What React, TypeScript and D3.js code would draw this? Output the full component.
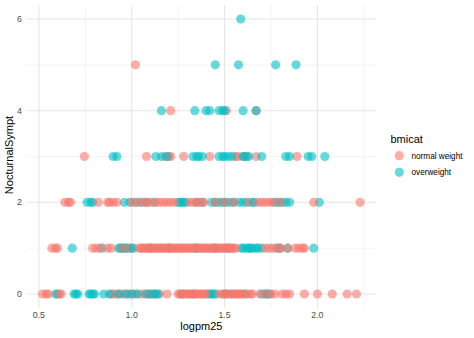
import React from "react";
import * as d3 from "d3";

const W = 474;
const H = 338;

const categories = ["normal weight", "overweight"];
const colors = ["#F8766D", "#00BFC4"];
const xTicks = [0.5, 1.0, 1.5, 2.0];
const xMinor = [0.75, 1.25, 1.75, 2.25];
const yTicks = [0, 2, 4, 6];
const yMinor = [1, 3, 5];

// logpm25 values per NocturnalSympt level, normal weight
const normal0 = [0.52, 0.54, 0.55, 0.61, 0.62, 0.89, 0.9, 0.92, 0.94, 0.96, 0.98, 1.0, 1.02, 1.05, 1.07, 1.09, 1.1, 1.12, 1.15, 1.19, 1.25, 1.26, 1.27, 1.28, 1.29, 1.3, 1.31, 1.32, 1.33, 1.34, 1.35, 1.36, 1.37, 1.38, 1.39, 1.4, 1.47, 1.49, 1.5, 1.51, 1.52, 1.53, 1.55, 1.56, 1.57, 1.58, 1.59, 1.6, 1.62, 1.64, 1.65, 1.69, 1.72, 1.75, 1.77, 1.81, 1.83, 1.85, 1.93, 2.0, 2.08, 2.16, 2.21];
const normal1 = [0.57, 0.59, 0.6, 0.79, 0.81, 0.83, 0.87, 0.89, 0.95, 0.99, 1.04, 1.05, 1.06, 1.07, 1.08, 1.09, 1.1, 1.11, 1.12, 1.13, 1.14, 1.15, 1.16, 1.17, 1.18, 1.19, 1.2, 1.21, 1.22, 1.23, 1.24, 1.25, 1.26, 1.27, 1.28, 1.29, 1.3, 1.31, 1.32, 1.33, 1.35, 1.36, 1.37, 1.38, 1.39, 1.4, 1.41, 1.42, 1.43, 1.44, 1.45, 1.46, 1.47, 1.48, 1.49, 1.5, 1.51, 1.52, 1.53, 1.54, 1.55, 1.56, 1.72, 1.74, 1.76, 1.79, 1.8, 1.84, 1.88, 1.9, 1.92, 1.93];
const normal2 = [0.64, 0.66, 0.67, 0.82, 0.87, 0.88, 0.9, 0.92, 1.0, 1.03, 1.06, 1.08, 1.1, 1.13, 1.15, 1.17, 1.19, 1.21, 1.23, 1.31, 1.33, 1.35, 1.37, 1.39, 1.45, 1.5, 1.55, 1.63, 1.68, 1.7, 1.72, 1.74, 1.76, 1.8, 1.98, 2.23];
const normal3 = [0.745, 1.08, 1.18, 1.2, 1.21, 1.28, 1.42, 1.56, 1.57, 1.6, 1.62, 1.67, 1.89];
const normal4 = [1.21, 1.51, 1.67];
const normal5 = [1.02];
const normal6: number[] = [];

// overweight
const over0 = [0.59, 0.6, 0.69, 0.7, 0.71, 0.77, 0.78, 0.79, 0.8, 0.85, 0.88, 0.93, 0.97, 1.0, 1.03, 1.08, 1.1, 1.12, 1.13, 1.14, 1.27, 1.33, 1.41, 1.42, 1.43, 1.44, 1.45, 1.5, 1.54, 1.61, 1.7, 1.72, 1.73, 1.74];
const over1 = [0.68, 0.84, 0.93, 0.94, 0.95, 0.96, 0.97, 0.98, 1.0, 1.01, 1.1, 1.2, 1.34, 1.35, 1.45, 1.52, 1.59, 1.6, 1.62, 1.63, 1.64, 1.65, 1.67, 1.68, 1.7, 1.78, 1.8, 1.84, 1.98];
const over2 = [0.76, 0.78, 0.79, 0.96, 0.99, 1.02, 1.05, 1.08, 1.12, 1.25, 1.26, 1.27, 1.28, 1.29, 1.35, 1.38, 1.43, 1.45, 1.47, 1.49, 1.51, 1.53, 1.55, 1.58, 1.6, 1.62, 1.65, 1.66, 1.77, 1.79, 1.81, 1.83, 1.85, 2.01];
const over3 = [0.9, 0.92, 1.13, 1.16, 1.19, 1.33, 1.35, 1.36, 1.38, 1.47, 1.49, 1.5, 1.52, 1.54, 1.6, 1.61, 1.63, 1.7, 1.83, 1.85, 1.95, 1.97, 2.04];
const over4 = [1.16, 1.34, 1.4, 1.42, 1.47, 1.49, 1.5, 1.6, 1.67];
const over5 = [1.45, 1.575, 1.775, 1.885];
const over6 = [1.587];

const normalLevels = [normal0, normal1, normal2, normal3, normal4, normal5, normal6];
const overLevels = [over0, over1, over2, over3, over4, over5, over6];

type Pt = { x: number; y: number; c: number };

function buildPoints(): Pt[] {
  const pts: Pt[] = [];
  for (let lvl = 0; lvl < 7; lvl++) {
    const a = normalLevels[lvl];
    const b = overLevels[lvl];
    const n = Math.max(a.length, b.length);
    for (let i = 0; i < n; i++) {
      if (i < a.length) pts.push({ x: a[i], y: lvl, c: 0 });
      if (i < b.length) pts.push({ x: b[i], y: lvl, c: 1 });
    }
  }
  return pts;
}

export default function App() {
  const pts = buildPoints();
  const allX = pts.map((p) => p.x);
  const xMin = d3.min(allX)!;
  const xMax = d3.max(allX)!;
  const xPad = (xMax - xMin) * 0.05;
  const yPad = 6 * 0.05;

  const left = 26.7;
  const right = 376;
  const top = 5.25;
  const bottom = 307.75;

  const x = d3.scaleLinear().domain([xMin - xPad, xMax + xPad]).range([left, right]);
  const y = d3.scaleLinear().domain([0 - yPad, 6 + yPad]).range([bottom, top]);

  const font = "Liberation Sans, Arial, Helvetica, sans-serif";
  const r = 4.6;
  const alpha = 0.6;

  return (
    <svg width={W} height={H} style={{ position: "absolute", left: 0, top: 0, fontFamily: font }}>
      <rect width={W} height={H} fill="white" />
      {yMinor.map((t) => (
        <line key={"ym" + t} x1={left} x2={right} y1={y(t)} y2={y(t)} stroke="#EBEBEB" strokeWidth={0.55} />
      ))}
      {xMinor.map((t) => (
        <line key={"xm" + t} x1={x(t)} x2={x(t)} y1={top} y2={bottom} stroke="#EBEBEB" strokeWidth={0.55} />
      ))}
      {yTicks.map((t) => (
        <line key={"yg" + t} x1={left} x2={right} y1={y(t)} y2={y(t)} stroke="#E5E5E5" strokeWidth={1.07} />
      ))}
      {xTicks.map((t) => (
        <line key={"xg" + t} x1={x(t)} x2={x(t)} y1={top} y2={bottom} stroke="#E5E5E5" strokeWidth={1.07} />
      ))}
      {pts.map((p, i) => (
        <circle key={i} cx={x(p.x)} cy={y(p.y)} r={r} fill={colors[p.c]} fillOpacity={alpha} />
      ))}
      {xTicks.map((t) => (
        <text key={"xt" + t} x={x(t)} y={318} textAnchor="middle" fontSize={8.8} fill="#4D4D4D">
          {d3.format(".1f")(t)}
        </text>
      ))}
      {yTicks.map((t) => (
        <text key={"yt" + t} x={22} y={y(t) + 3.1} textAnchor="end" fontSize={8.8} fill="#4D4D4D">
          {t}
        </text>
      ))}
      <text x={(left + right) / 2} y={330} textAnchor="middle" fontSize={11} fill="#000">
        logpm25
      </text>
      <text
        transform={`translate(${12.8},${(top + bottom) / 2 - 1.5}) rotate(-90)`}
        textAnchor="middle"
        fontSize={11}
        fill="#000"
      >
        NocturnalSympt
      </text>
      <text x={390.5} y={143} fontSize={11} fill="#000">
        bmicat
      </text>
      {categories.map((c, i) => (
        <g key={c}>
          <circle cx={399.3} cy={155.7 + i * 16.6} r={r} fill={colors[i]} fillOpacity={alpha} />
          <text x={411.5} y={155.7 + i * 16.6 + 3} fontSize={8.2} fill="#000">
            {c}
          </text>
        </g>
      ))}
    </svg>
  );
}
